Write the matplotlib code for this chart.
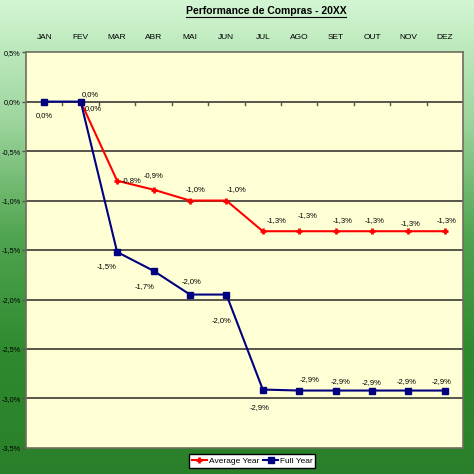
import numpy as np
import matplotlib
matplotlib.use("Agg")
import matplotlib.pyplot as plt
from matplotlib.colors import LinearSegmentedColormap
from matplotlib.lines import Line2D

plt.rcParams["font.family"] = ["Liberation Sans Narrow", "Liberation Sans", "DejaVu Sans"]

MONTHS = ["JAN", "FEV", "MAR", "ABR", "MAI", "JUN", "JUL", "AGO", "SET", "OUT", "NOV", "DEZ"]
# values in %
avg_year = [np.nan, 0.0, -0.8, -0.89, -1.0, -1.0, -1.31, -1.31, -1.31, -1.31, -1.31, -1.31]
full_year = [0.0, 0.0, -1.52, -1.71, -1.95, -1.95, -2.91, -2.92, -2.92, -2.92, -2.92, -2.92]
avg_labels = [None, "0,0%", "-0,8%", "-0,9%", "-1,0%", "-1,0%", "-1,3%", "-1,3%", "-1,3%", "-1,3%", "-1,3%", "-1,3%"]
full_labels = ["0,0%", "0,0%", "-1,5%", "-1,7%", "-2,0%", "-2,0%", "-2,9%", "-2,9%", "-2,9%", "-2,9%", "-2,9%", "-2,9%"]

# label offsets in pixels (dx, dy)
avg_off = [None, (10, 7), (14, 0), (0, 14), (6, 11), (10, 11), (14, 11), (8, 16), (7, 11), (3, 11), (2, 8), (2, 11)]
full_off = [(0, -14), (13, -7), (-11, -15), (-9, -16), (2, 13), (-5, -26), (-3, -18),
            (10, 11), (5, 9), (0, 8), (-2, 9), (-3, 9)]

RED = "#FF0000"
NAVY = "#000080"
PLOT_BG = "#FFFFD6"
GRID = "#55554A"

fig = plt.figure(figsize=(4.74, 4.74), dpi=100)

# green vertical gradient background
bg = fig.add_axes([0, 0, 1, 1], zorder=-10)
cmap = LinearSegmentedColormap.from_list("g", ["#D2F6D2", "#9ED69E", "#4FA44F", "#2E8A2E", "#2A802A"])
bg.imshow(np.linspace(0, 1, 256).reshape(-1, 1), aspect="auto", cmap=cmap, extent=[0, 1, 0, 1])
bg.axis("off")

ax = fig.add_axes([0.055, 0.055, 0.922, 0.835])
ax.set_facecolor(PLOT_BG)
x = np.arange(len(MONTHS))

ax.set_xlim(-0.5, 11.5)
ax.set_ylim(-3.5, 0.5)
yt = np.arange(-3.5, 0.51, 0.5)
ax.set_yticks(yt)
ax.set_yticklabels([f"{v:.1f}%".replace(".", ",") for v in yt], fontsize=5.3)
for v in yt:
    if -3.5 < v < 0.5:
        ax.axhline(v, color=GRID, lw=1.4, zorder=1)
# category tick marks on the zero line
for b in np.arange(0.5, 11.5, 1):
    ax.plot([b, b], [0, -0.035], color=GRID, lw=1, zorder=1)

ax.set_xticks(x)
ax.set_xticklabels(MONTHS, fontsize=6)
ax.xaxis.tick_top()
ax.tick_params(axis="x", length=0, pad=8)
ax.tick_params(axis="y", length=3, width=1, color=GRID, pad=1)
for s in ax.spines.values():
    s.set_color("#6E6E60")
    s.set_linewidth(1.2)

ax.plot(x, avg_year, color=RED, lw=1.5, marker="+", ms=5, mew=2, zorder=3, label="Average Year")
ax.plot(x, full_year, color=NAVY, lw=1.5, marker="s", ms=4.5, zorder=4, label="Full Year")

for i in x:
    if avg_labels[i] is not None:
        ax.annotate(avg_labels[i], (i, avg_year[i]), xytext=avg_off[i], textcoords="offset pixels",
                    ha="center", va="center", fontsize=5.5, color="black")
    ax.annotate(full_labels[i], (i, full_year[i]), xytext=full_off[i], textcoords="offset pixels",
                ha="center", va="center", fontsize=5.5, color="black")

leg = fig.legend(loc="center", bbox_to_anchor=(0.532, 0.027), ncol=2, fontsize=6,
                 frameon=True, fancybox=False, edgecolor="black", framealpha=1,
                 handlelength=1.8, columnspacing=0.5, handletextpad=0.2,
                 borderpad=0.35)
leg.get_frame().set_linewidth(1.0)

t = fig.text(0.561, 0.977, "Performance de Compras - 20XX", ha="center", va="center",
             fontsize=7.5, fontweight="bold")
fig.canvas.draw()
bb = t.get_window_extent().transformed(fig.transFigure.inverted())
fig.add_artist(Line2D([bb.x0, bb.x1], [bb.y0 - 0.002, bb.y0 - 0.002], color="black", lw=0.8,
                      transform=fig.transFigure))

fig.savefig("out.png", dpi=100)
